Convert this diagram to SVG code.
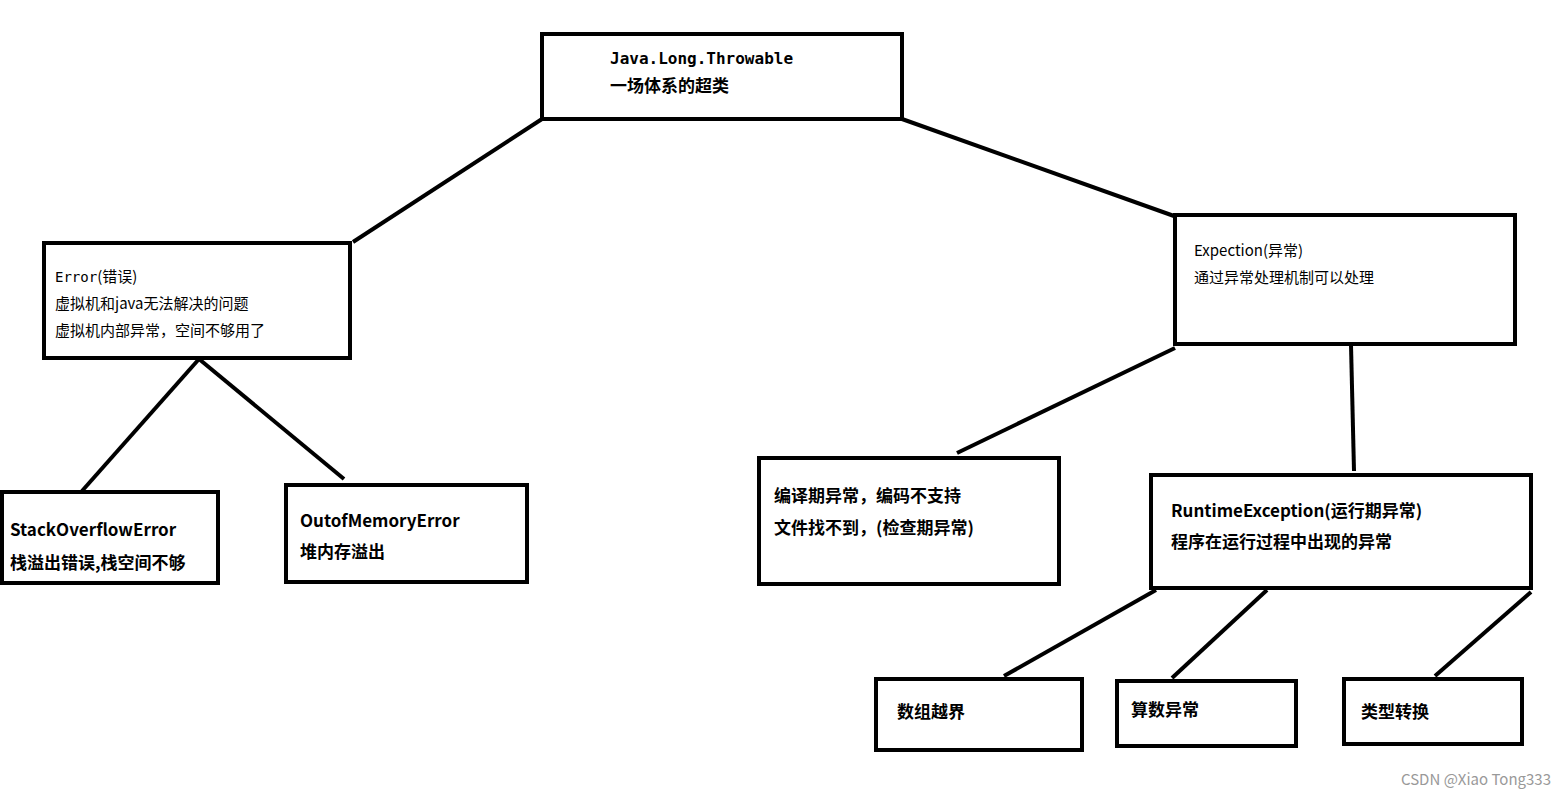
<svg xmlns="http://www.w3.org/2000/svg" width="1567" height="798" viewBox="0 0 1567 798">
<style>
rect{fill:#fff;stroke:#000;stroke-width:4}
line{stroke:#000;stroke-width:4}
text{font-family:"Noto Sans CJK SC","Noto Sans",sans-serif;fill:#000}
.n{font-size:15px}
.b{font-size:17px;font-weight:bold}
</style>
<rect x="0" y="0" width="1567" height="798" style="stroke:none"/>
<g id="connectors">
<line x1="542" y1="119" x2="353" y2="242"/>
<line x1="902" y1="119" x2="1174" y2="216"/>
<line x1="199" y1="359" x2="82" y2="491"/>
<line x1="199" y1="359" x2="344" y2="479"/>
<line x1="1175" y1="348" x2="957" y2="453"/>
<line x1="1351" y1="345" x2="1354" y2="471"/>
<line x1="1156" y1="590" x2="1004" y2="676"/>
<line x1="1267" y1="590" x2="1172" y2="678"/>
<line x1="1531" y1="592" x2="1435" y2="676"/>
</g>
<g id="throwable"><rect x="542" y="34" width="360" height="85"/>
<text x="610" y="64" class="b" style="font-size:16px;font-family:'DejaVu Sans Mono',monospace">Java.Long.Throwable</text>
<text x="610" y="92" class="b">一场体系的超类</text></g>
<g id="error"><rect x="44" y="243" width="306" height="115"/>
<text x="55" y="282" class="n"><tspan style="font-family:'DejaVu Sans Mono',monospace;font-size:14px">Error</tspan>(错误)</text>
<text x="55" y="309" class="n">虚拟机和java无法解决的问题</text>
<text x="55" y="336" class="n">虚拟机内部异常，空间不够用了</text></g>
<g id="exception"><rect x="1175" y="215" width="340" height="129"/>
<text x="1194" y="256" class="n">Expection(异常)</text>
<text x="1194" y="283" class="n">通过异常处理机制可以处理</text></g>
<g id="soe"><rect x="2" y="492" width="216" height="91"/>
<text x="10" y="536" class="b">StackOverflowError</text>
<text x="10" y="569" class="b">栈溢出错误,栈空间不够</text></g>
<g id="oom"><rect x="286" y="485" width="241" height="97"/>
<text x="300" y="527" class="b">OutofMemoryError</text>
<text x="300" y="558" class="b">堆内存溢出</text></g>
<g id="checked"><rect x="759" y="458" width="300" height="126"/>
<text x="774" y="502" class="b">编译期异常，编码不支持</text>
<text x="774" y="534" class="b">文件找不到，(检查期异常)</text></g>
<g id="runtime"><rect x="1151" y="475" width="380" height="113"/>
<text x="1171" y="517" class="b">RuntimeException(运行期异常)</text>
<text x="1171" y="548" class="b">程序在运行过程中出现的异常</text></g>
<g id="idx"><rect x="876" y="679" width="206" height="71"/>
<text x="897" y="718" class="b">数组越界</text></g>
<g id="arith"><rect x="1117" y="681" width="179" height="65"/>
<text x="1131" y="716" class="b">算数异常</text></g>
<g id="cast"><rect x="1344" y="679" width="178" height="65"/>
<text x="1361" y="718" class="b">类型转换</text></g>
<text x="1551" y="785" style="font-size:15px;fill:#999;text-anchor:end">CSDN @Xiao Tong333</text>
</svg>
